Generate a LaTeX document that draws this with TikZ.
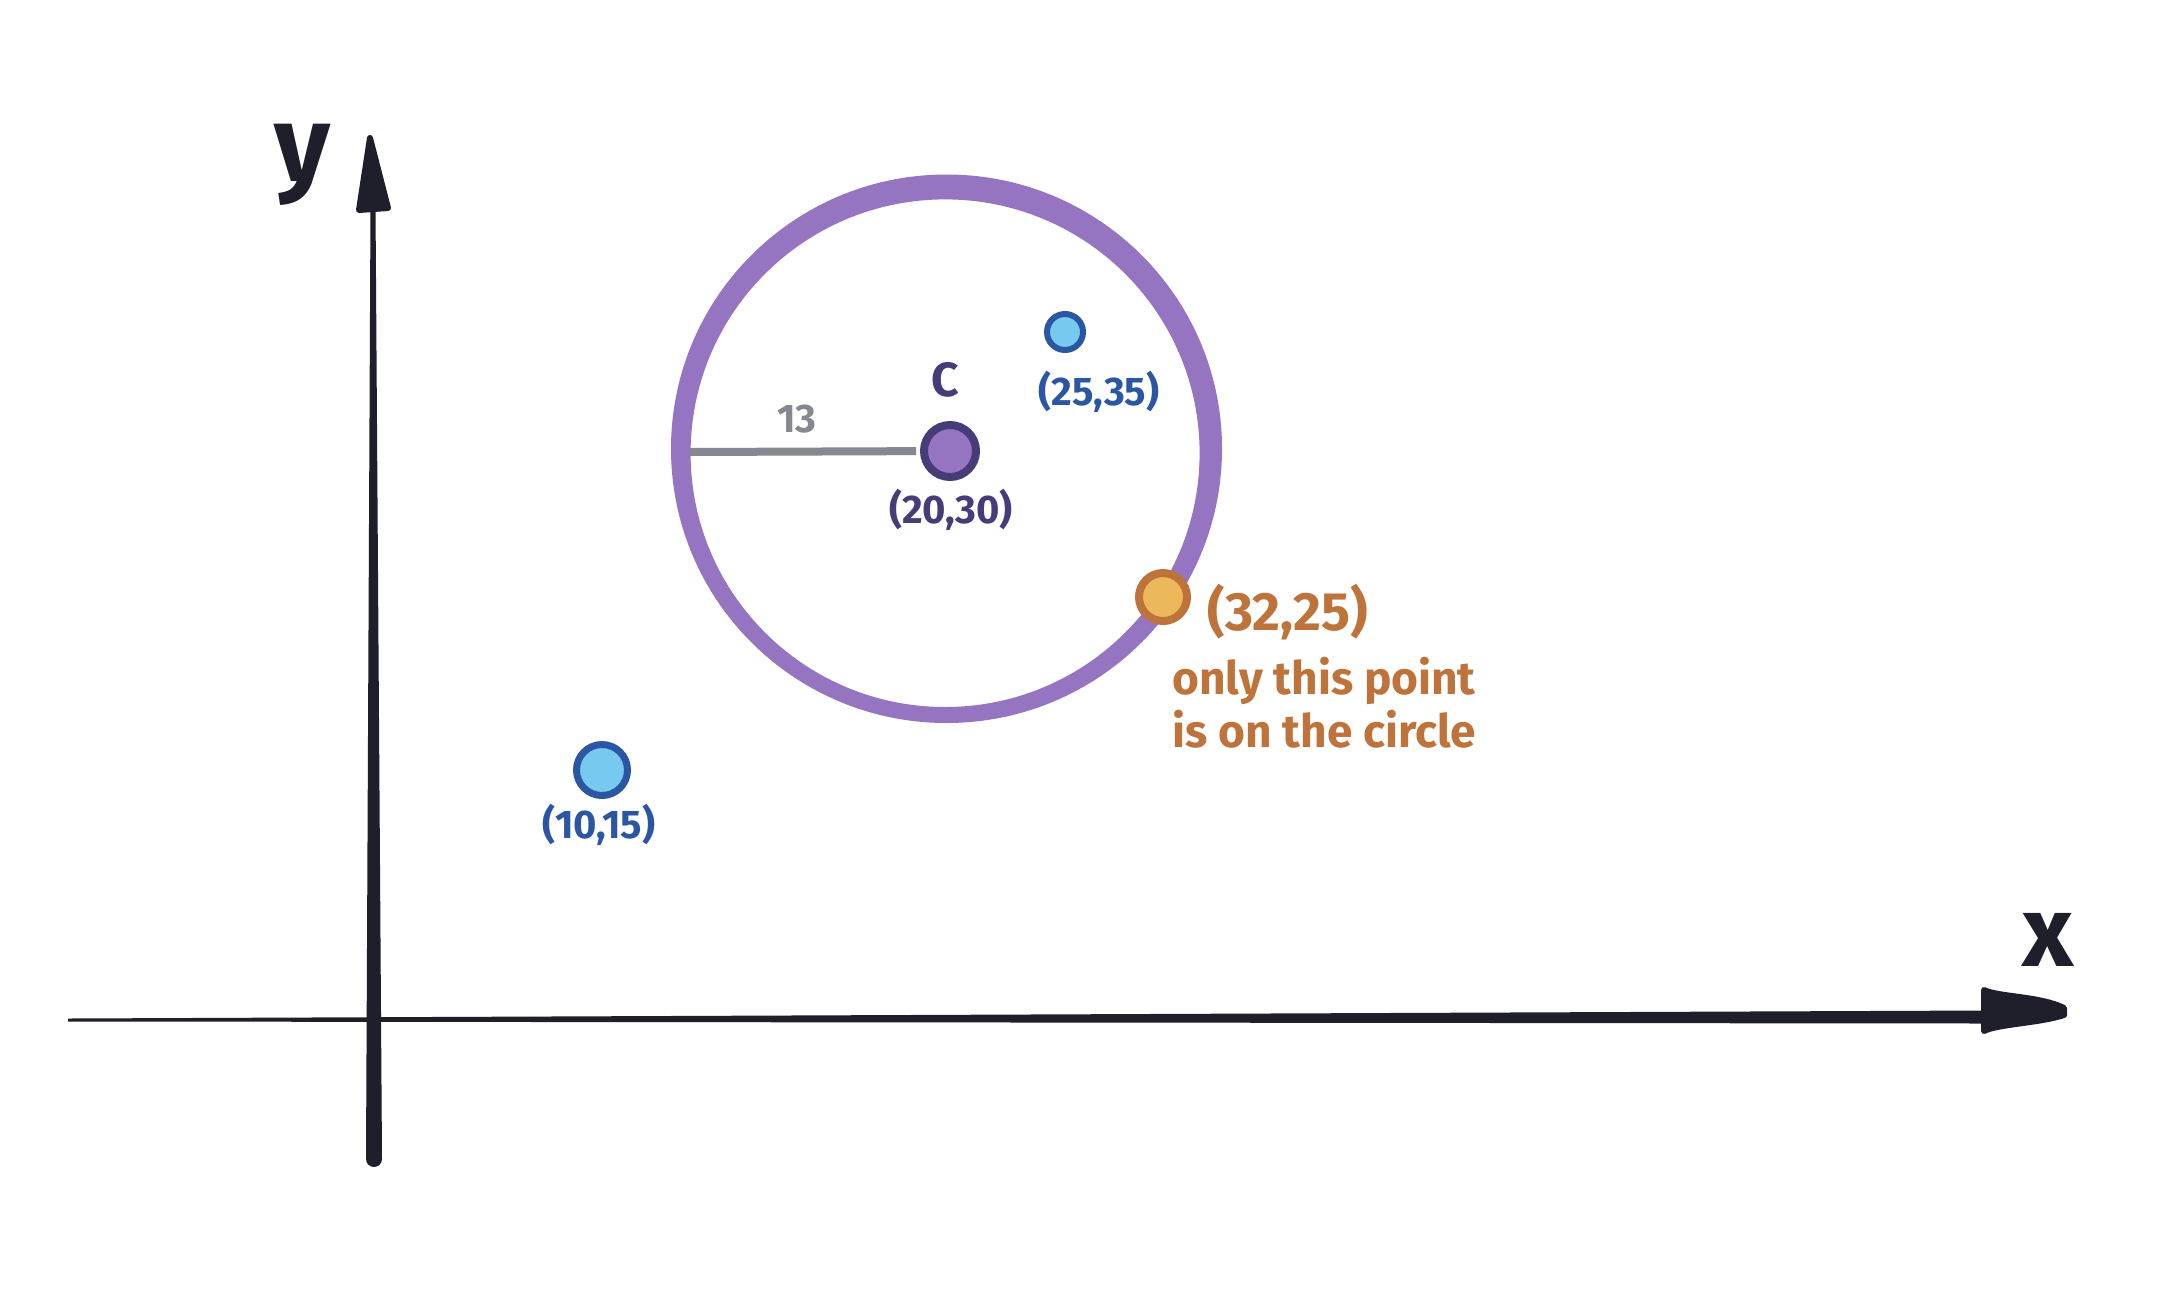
\documentclass[tikz,border=0pt]{standalone}
\usepackage{fontspec}
\setmainfont{Fira Sans}
\definecolor{axis}{HTML}{1E1F2B}
\definecolor{cpurple}{HTML}{9574C2}
\definecolor{cdark}{HTML}{483C78}
\definecolor{rgray}{HTML}{868891}
\definecolor{bstroke}{HTML}{2B56A3}
\definecolor{bfill}{HTML}{77C9F0}
\definecolor{ostroke}{HTML}{BD733A}
\definecolor{ofill}{HTML}{EBB95C}
\tikzset{
  lbl/.style={inner sep=0pt, font=\bfseries\fontsize{20pt}{24pt}\selectfont},
  dotpt/.style={circle, inner sep=0pt},
  ring/.style={fill=cpurple, even odd rule},
  radline/.style={draw=rgray, line width=4pt},
  axisfill/.style={fill=axis},
  tipstyle/.style={fill=axis, draw=axis, line width=3pt, line join=round},
}
\begin{document}
\begin{tikzpicture}[x=0.5pt, y=-0.5pt]
\useasboundingbox[fill=white] (0,0) rectangle (2182,1290);

% axes
\fill[axisfill] (68,1018.5) -- (1986,1010.5) -- (1986,1023.5) -- (68,1021.5) -- cycle;
\fill[axisfill] (370.5,205) -- (375.5,205) -- (382,1159) arc[start angle=0, end angle=180, radius=8] -- cycle;
\filldraw[tipstyle] (370,138) -- (388,208) -- (359,210) -- cycle;
\filldraw[tipstyle] (1984,990) .. controls (1998,997) and (2040,996) .. (2064,1008)
   -- (2064,1015) .. controls (2040,1023) and (1998,1024) .. (1984,1031) -- cycle;
\node[lbl, text=axis, font=\bfseries\fontsize{54pt}{60pt}\selectfont] (ly) at (302,165) {y};
\node[lbl, text=axis, font=\bfseries\fontsize{50pt}{56pt}\selectfont] (lx) at (2048,940) {x};

% circle ring
\fill[ring] (946.5,448.75) ellipse[x radius=275.5, y radius=274.25]
            (945.1,453.2) ellipse[x radius=254.5, y radius=253.8];

% points
\node[dotpt, draw=cdark, fill=cpurple, line width=4pt, minimum size=26pt] (cpt) at (950,451) {};
\node[dotpt, draw=bstroke, fill=bfill, line width=3pt, minimum size=18pt] (p2535) at (1065,332) {};
\node[dotpt, draw=bstroke, fill=bfill, line width=3.5pt, minimum size=25.5pt] (p1015) at (602,770) {};
\node[dotpt, draw=ostroke, fill=ofill, line width=4pt, minimum size=24pt] (p3225) at (1163,597) {};

% radius
\coordinate (cleft) at (690,452);
\draw[radline, shorten >=2pt] (cleft) -- (cpt);

% labels
\node[lbl, text=cdark, font=\bfseries\fontsize{24pt}{28pt}\selectfont] (lc) at (945,380) {C};
\node[lbl, text=rgray] (l13) at (797,419) {13};
\node[lbl, text=cdark] (l2030) at (951,510) {(20,30)};
\node[lbl, text=bstroke] (l2535) at (1099,392) {(25,35)};
\node[lbl, text=bstroke] (l1015) at (599,825) {(10,15)};
\node[lbl, text=ostroke, font=\bfseries\fontsize{27pt}{32pt}\selectfont] (l3225) at (1288,612) {(32,25)};
\node[lbl, text=ostroke, anchor=north west, align=left, font=\bfseries\fontsize{23pt}{26.5pt}\selectfont] (note) at (1172,657) {only this point\\is on the circle};
\end{tikzpicture}
\end{document}
